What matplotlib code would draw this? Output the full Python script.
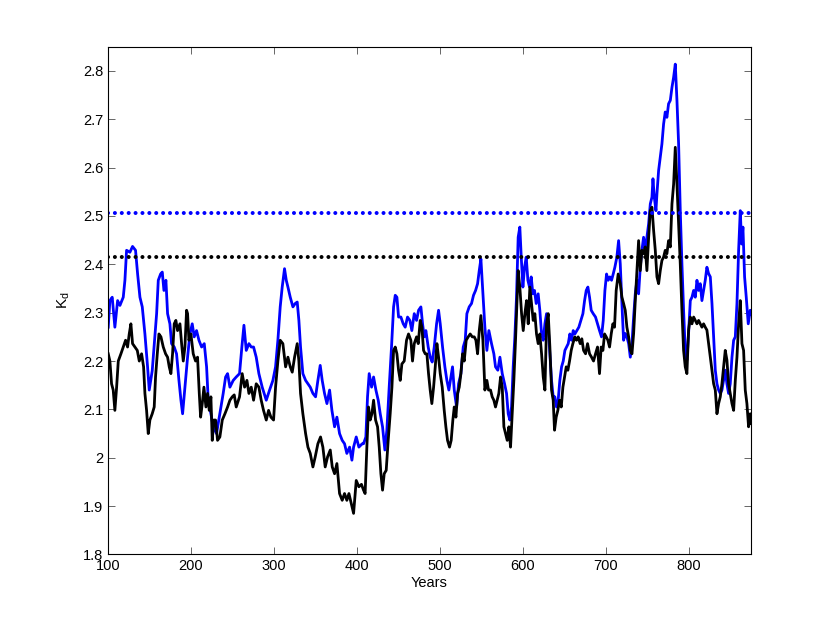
import matplotlib
matplotlib.use("Agg")
import matplotlib.pyplot as plt
from matplotlib.ticker import FormatStrFormatter, FuncFormatter

# blue series
yearsBlue = [100.4, 102.4, 105.2, 108.4, 111.7, 114.5, 118.5, 120.5, 122.5, 126.5, 129.7, 133.3, 135.8,
             138.6, 141.4, 144.6, 147.8, 149.8, 153.4, 156.6, 158.7, 160.7, 163.5, 165.5, 167.5, 169.9,
             171.9, 174.7, 176.7, 179.9, 182.7, 185.6, 188.0, 190.0, 192.8, 196.0, 198.8, 201.6, 204.0,
             206.8, 209.7, 212.9, 216.1, 218.9, 220.9, 224.1, 226.9, 230.9, 234.9, 238.9, 241.8, 244.2,
             247.0, 251.0, 254.6, 258.6, 261.4, 263.9, 266.7, 269.9, 272.7, 275.5, 278.7, 281.9, 285.9,
             290.8, 294.8, 298.8, 302.0, 304.8, 307.6, 310.0, 312.8, 314.9, 316.9, 319.7, 322.9, 325.7,
             328.1, 330.1, 332.1, 334.9, 338.2, 341.0, 343.8, 347.0, 350.2, 353.0, 355.8, 358.2, 361.0,
             363.9, 367.1, 369.9, 373.1, 375.9, 379.1, 382.3, 385.1, 387.9, 391.2, 394.0, 396.0, 399.2,
             402.4, 406.4, 408.0, 410.8, 412.8, 414.8, 417.7, 420.1, 422.9, 425.7, 428.1, 430.9, 433.7,
             436.1, 438.9, 441.7, 444.2, 446.2, 448.2, 450.2, 453.0, 455.8, 458.2, 461.0, 463.8, 466.2,
             469.1, 471.9, 474.3, 477.1, 479.1, 481.1, 483.1, 485.9, 488.3, 490.7, 493.2, 496.0, 498.4,
             500.4, 503.2, 506.0, 508.4, 510.8, 513.2, 515.2, 517.3, 520.1, 522.5, 525.3, 528.1, 530.5,
             532.5, 535.3, 538.1, 540.5, 543.0, 545.4, 547.4, 549.4, 551.4, 554.2, 556.6, 559.0, 562.2,
             565.0, 567.0, 569.8, 572.3, 575.1, 577.9, 580.3, 582.3, 584.3, 586.3, 588.3, 590.3, 592.3,
             594.3, 596.3, 598.0, 600.0, 602.0, 604.0, 606.0, 608.0, 610.0, 612.0, 614.0, 616.0, 618.4,
             620.4, 622.5, 624.5, 626.5, 628.5, 630.5, 632.5, 634.5, 636.5, 638.5, 640.5, 642.5, 644.5,
             646.6, 648.6, 650.6, 652.6, 654.6, 656.6, 658.6, 660.6, 662.6, 665.0, 667.4, 669.8, 672.3,
             674.3, 676.3, 678.3, 680.3, 682.3, 684.7, 687.5, 689.9, 692.3, 694.7, 696.8, 698.8, 700.8,
             702.8, 704.8, 706.8, 708.8, 710.8, 713.2, 715.3, 717.3, 719.3, 721.3, 723.3, 725.3, 727.4,
             729.4, 731.4, 733.4, 735.4, 737.4, 739.4, 741.4, 743.4, 745.4, 747.4, 749.4, 751.5, 753.5,
             755.5, 756.7, 758.3, 760.3, 761.5, 763.5, 765.5, 767.5, 769.5, 771.5, 773.5, 775.5, 777.6,
             779.6, 781.6, 783.6, 785.6, 787.6, 789.6, 791.6, 793.6, 795.6, 797.6, 799.6, 801.7, 803.7,
             805.7, 807.7, 809.7, 811.7, 813.7, 815.7, 817.7, 819.7, 821.7, 823.7, 825.8, 827.8, 829.8,
             831.8, 833.8, 835.8, 837.8, 839.8, 841.8, 843.8, 845.8, 847.8, 849.8, 851.9, 853.9, 855.9,
             857.9, 859.9, 861.9, 863.5, 865.1, 867.1, 869.1, 871.5, 873.9, 875.0]
kdBlue = [2.270, 2.325, 2.332, 2.270, 2.325, 2.315, 2.332, 2.367, 2.429, 2.425, 2.437, 2.429, 2.380,
          2.332, 2.312, 2.256, 2.188, 2.140, 2.180, 2.250, 2.298, 2.367, 2.380, 2.384, 2.346, 2.367,
          2.298, 2.277, 2.236, 2.229, 2.215, 2.160, 2.119, 2.091, 2.146, 2.208, 2.256, 2.277, 2.250,
          2.263, 2.243, 2.229, 2.236, 2.188, 2.119, 2.091, 2.064, 2.050, 2.091, 2.133, 2.167, 2.174,
          2.146, 2.160, 2.167, 2.174, 2.229, 2.274, 2.222, 2.236, 2.229, 2.229, 2.208, 2.174, 2.146,
          2.119, 2.140, 2.160, 2.188, 2.243, 2.312, 2.353, 2.391, 2.367, 2.353, 2.332, 2.312, 2.319,
          2.322, 2.284, 2.229, 2.174, 2.160, 2.153, 2.146, 2.133, 2.126, 2.160, 2.191, 2.160, 2.133,
          2.112, 2.140, 2.098, 2.064, 2.084, 2.050, 2.036, 2.029, 2.009, 2.022, 1.995, 2.022, 2.043,
          2.022, 2.029, 2.029, 2.043, 2.126, 2.174, 2.146, 2.167, 2.140, 2.119, 2.091, 2.064, 2.016,
          2.057, 2.146, 2.229, 2.312, 2.336, 2.332, 2.291, 2.291, 2.277, 2.270, 2.291, 2.284, 2.263,
          2.298, 2.284, 2.305, 2.312, 2.277, 2.250, 2.263, 2.229, 2.208, 2.198, 2.229, 2.277, 2.305,
          2.277, 2.229, 2.188, 2.160, 2.140, 2.167, 2.188, 2.140, 2.105, 2.153, 2.174, 2.229, 2.243,
          2.298, 2.312, 2.319, 2.336, 2.346, 2.360, 2.387, 2.411, 2.353, 2.270, 2.222, 2.263, 2.236,
          2.215, 2.188, 2.181, 2.208, 2.174, 2.153, 2.133, 2.091, 2.078, 2.105, 2.188, 2.250, 2.332,
          2.456, 2.477, 2.415, 2.353, 2.394, 2.415, 2.367, 2.353, 2.374, 2.339, 2.346, 2.319, 2.339,
          2.305, 2.256, 2.243, 2.277, 2.298, 2.270, 2.215, 2.160, 2.126, 2.126, 2.105, 2.119, 2.160,
          2.188, 2.200, 2.222, 2.229, 2.236, 2.256, 2.243, 2.263, 2.256, 2.263, 2.270, 2.284, 2.298,
          2.325, 2.346, 2.353, 2.332, 2.305, 2.298, 2.291, 2.277, 2.263, 2.250, 2.284, 2.346, 2.380,
          2.367, 2.374, 2.367, 2.380, 2.394, 2.415, 2.449, 2.401, 2.319, 2.243, 2.257, 2.250, 2.236,
          2.208, 2.236, 2.291, 2.339, 2.367, 2.339, 2.394, 2.429, 2.456, 2.429, 2.456, 2.484, 2.525,
          2.539, 2.577, 2.539, 2.511, 2.546, 2.594, 2.622, 2.649, 2.690, 2.715, 2.704, 2.732, 2.739,
          2.766, 2.787, 2.814, 2.739, 2.649, 2.511, 2.401, 2.305, 2.222, 2.202, 2.257, 2.325, 2.332,
          2.346, 2.332, 2.367, 2.346, 2.360, 2.325, 2.346, 2.367, 2.394, 2.381, 2.374, 2.319, 2.250,
          2.181, 2.153, 2.140, 2.133, 2.140, 2.160, 2.181, 2.153, 2.133, 2.153, 2.208, 2.243, 2.250,
          2.319, 2.429, 2.511, 2.442, 2.477, 2.374, 2.332, 2.277, 2.305, 2.298]

# black series
yearsBlack = [100.4, 102.4, 104.4, 106.4, 108.4, 110.5, 112.5, 115.7, 118.5, 121.3, 123.7, 125.7, 127.7,
              129.7, 132.5, 135.4, 137.8, 140.6, 143.0, 144.6, 146.6, 148.6, 150.6, 153.4, 155.8, 157.4,
              159.5, 161.5, 163.9, 166.7, 169.5, 171.9, 173.9, 175.9, 177.9, 179.9, 181.9, 183.9, 186.8,
              188.8, 190.8, 192.8, 194.8, 196.0, 197.6, 200.0, 202.8, 205.6, 208.0, 210.1, 211.7, 213.7,
              215.7, 218.1, 220.1, 222.1, 224.1, 225.7, 227.7, 229.7, 232.1, 234.9, 237.8, 241.0, 244.2,
              247.0, 249.8, 252.2, 254.6, 258.6, 261.8, 264.7, 267.5, 269.9, 272.7, 275.5, 278.7, 281.9,
              284.7, 287.5, 290.8, 293.6, 296.4, 299.6, 302.0, 304.8, 307.6, 310.8, 314.1, 316.9, 319.7,
              322.1, 324.9, 328.1, 330.1, 332.1, 334.9, 338.2, 341.0, 343.8, 347.0, 349.8, 353.0, 356.2,
              359.0, 361.8, 364.7, 367.9, 370.3, 373.1, 375.9, 379.1, 382.3, 385.1, 387.9, 390.4, 393.2,
              396.0, 399.2, 402.4, 405.5, 408.0, 409.9, 412.0, 414.0, 416.0, 418.1, 420.1, 422.5, 424.9,
              426.9, 428.9, 430.9, 432.9, 435.3, 437.7, 440.1, 442.2, 444.2, 446.2, 448.2, 450.2, 452.2,
              454.2, 457.0, 459.8, 462.2, 465.0, 467.0, 469.1, 471.9, 473.9, 476.3, 478.3, 480.3, 482.3,
              484.3, 486.3, 488.3, 490.3, 492.4, 494.4, 496.4, 498.4, 500.4, 502.8, 505.2, 507.2, 509.2,
              511.6, 513.6, 515.6, 517.3, 519.3, 521.3, 523.3, 525.3, 527.3, 529.3, 531.7, 534.1, 536.5,
              539.0, 541.4, 543.4, 545.4, 547.4, 549.4, 551.8, 554.2, 556.6, 558.6, 561.0, 563.0, 565.0,
              567.0, 569.0, 571.0, 573.1, 575.1, 577.1, 579.1, 581.1, 583.1, 585.1, 587.1, 589.1, 591.1,
              593.1, 594.3, 596.3, 598.4, 600.4, 602.4, 604.4, 606.4, 608.4, 610.4, 612.4, 614.4, 616.4,
              618.4, 620.4, 622.5, 624.5, 626.5, 628.5, 630.5, 632.5, 634.5, 636.5, 638.1, 640.1, 642.1,
              644.1, 646.2, 648.2, 650.2, 652.2, 654.2, 656.2, 658.2, 660.2, 662.6, 664.6, 666.6, 669.0,
              671.0, 673.1, 675.5, 677.9, 680.3, 682.7, 685.1, 687.5, 689.9, 692.3, 694.3, 696.4, 698.4,
              700.4, 702.4, 704.4, 706.4, 708.4, 710.4, 712.4, 714.8, 717.3, 719.3, 721.3, 723.3, 725.3,
              727.4, 729.4, 731.4, 733.4, 735.4, 737.4, 739.4, 741.4, 743.4, 745.4, 747.4, 749.4, 751.5,
              753.5, 755.5, 757.5, 759.5, 761.5, 763.5, 765.5, 767.5, 769.5, 771.5, 773.5, 775.5, 777.6,
              779.6, 781.6, 783.6, 785.6, 787.6, 789.6, 791.6, 793.6, 795.6, 797.6, 799.6, 801.7, 803.7,
              805.7, 807.7, 809.7, 811.7, 813.7, 815.7, 817.7, 819.7, 821.7, 823.7, 825.8, 827.8, 829.8,
              831.8, 833.8, 835.8, 837.8, 839.8, 841.8, 843.8, 845.8, 847.8, 849.8, 851.9, 853.9, 855.9,
              857.9, 859.9, 861.9, 863.9, 865.9, 867.9, 869.9, 871.9, 873.9, 875.0]
kdBlack = [2.215, 2.200, 2.153, 2.140, 2.098, 2.146, 2.200, 2.215, 2.229, 2.243, 2.229, 2.256, 2.277,
           2.236, 2.229, 2.222, 2.200, 2.215, 2.188, 2.133, 2.098, 2.050, 2.078, 2.091, 2.105, 2.167,
           2.215, 2.256, 2.250, 2.229, 2.215, 2.208, 2.188, 2.174, 2.215, 2.277, 2.284, 2.263, 2.277,
           2.236, 2.200, 2.229, 2.305, 2.298, 2.243, 2.256, 2.215, 2.200, 2.208, 2.133, 2.084, 2.112,
           2.146, 2.105, 2.133, 2.098, 2.126, 2.036, 2.078, 2.078, 2.036, 2.043, 2.078, 2.091, 2.105,
           2.119, 2.126, 2.130, 2.105, 2.126, 2.174, 2.146, 2.160, 2.133, 2.146, 2.119, 2.153, 2.146,
           2.119, 2.098, 2.078, 2.098, 2.084, 2.078, 2.146, 2.200, 2.243, 2.236, 2.188, 2.208, 2.188,
           2.177, 2.208, 2.236, 2.200, 2.133, 2.091, 2.050, 2.022, 2.009, 1.981, 2.002, 2.029, 2.043,
           2.022, 1.981, 2.002, 2.016, 1.981, 1.967, 1.988, 1.926, 1.912, 1.926, 1.912, 1.926, 1.905,
           1.885, 1.953, 1.940, 1.945, 1.933, 1.926, 2.022, 2.105, 2.078, 2.091, 2.119, 2.078, 2.064,
           2.022, 1.967, 1.933, 1.967, 1.974, 2.036, 2.091, 2.146, 2.222, 2.229, 2.215, 2.181, 2.160,
           2.194, 2.200, 2.243, 2.256, 2.243, 2.200, 2.236, 2.250, 2.236, 2.284, 2.270, 2.222, 2.215,
           2.215, 2.174, 2.140, 2.112, 2.146, 2.188, 2.236, 2.208, 2.174, 2.146, 2.098, 2.064, 2.036,
           2.022, 2.036, 2.078, 2.105, 2.084, 2.133, 2.146, 2.174, 2.215, 2.200, 2.243, 2.250, 2.256,
           2.250, 2.250, 2.243, 2.215, 2.263, 2.294, 2.243, 2.140, 2.160, 2.140, 2.140, 2.126, 2.119,
           2.105, 2.119, 2.133, 2.167, 2.146, 2.064, 2.050, 2.036, 2.064, 2.022, 2.091, 2.160, 2.243,
           2.332, 2.387, 2.353, 2.298, 2.263, 2.298, 2.325, 2.277, 2.353, 2.319, 2.284, 2.298, 2.256,
           2.236, 2.256, 2.215, 2.167, 2.140, 2.277, 2.298, 2.229, 2.140, 2.119, 2.057, 2.084, 2.098,
           2.119, 2.105, 2.146, 2.167, 2.188, 2.181, 2.200, 2.222, 2.236, 2.250, 2.243, 2.250, 2.236,
           2.246, 2.222, 2.215, 2.236, 2.215, 2.208, 2.200, 2.215, 2.229, 2.174, 2.229, 2.222, 2.256,
           2.250, 2.243, 2.229, 2.256, 2.277, 2.270, 2.346, 2.380, 2.360, 2.332, 2.319, 2.305, 2.270,
           2.250, 2.222, 2.215, 2.257, 2.325, 2.387, 2.449, 2.387, 2.429, 2.422, 2.436, 2.387, 2.456,
           2.511, 2.518, 2.470, 2.429, 2.374, 2.360, 2.387, 2.408, 2.415, 2.429, 2.422, 2.449, 2.436,
           2.525, 2.566, 2.642, 2.566, 2.484, 2.401, 2.305, 2.222, 2.188, 2.174, 2.264, 2.291, 2.277,
           2.291, 2.284, 2.277, 2.284, 2.277, 2.270, 2.277, 2.270, 2.264, 2.236, 2.208, 2.181, 2.153,
           2.140, 2.091, 2.112, 2.126, 2.153, 2.188, 2.222, 2.202, 2.153, 2.133, 2.112, 2.098, 2.160,
           2.208, 2.277, 2.325, 2.236, 2.222, 2.140, 2.112, 2.064, 2.091, 2.071]

# threshold levels
levelBlue = 2.506
levelBlack = 2.415

xTicks = [100, 200, 300, 400, 500, 600, 700, 800]
yTicks = [1.8, 1.9, 2.0, 2.1, 2.2, 2.3, 2.4, 2.5, 2.6, 2.7, 2.8]

plt.rcParams['font.family'] = ['Liberation Sans', 'DejaVu Sans']

fig = plt.figure(figsize=(8.3, 6.23), dpi=100)
ax = fig.add_axes([0.13, 0.11, 0.775, 0.815])

ax.plot(yearsBlue, kdBlue, color=(0, 0, 1), linewidth=2)
ax.plot(yearsBlack, kdBlack, color='k', linewidth=2)

dotStyle = (0, (0.01, 1.7))
ax.axhline(levelBlue, color=(0, 0, 1), linewidth=2.9, linestyle=dotStyle, dash_capstyle='round')
ax.axhline(levelBlack, color='k', linewidth=2.9, linestyle=dotStyle, dash_capstyle='round')

ax.set_xlim(100, 875)
ax.set_ylim(1.8, 2.85)
ax.set_xticks(xTicks)
ax.set_yticks(yTicks)
ax.yaxis.set_major_formatter(FuncFormatter(lambda v, p: '%g' % round(v, 2)))
ax.tick_params(direction='in', top=True, right=True, length=5, width=0.6, labelsize=10.5, color='0.3')
for s in ax.spines.values():
    s.set_linewidth(0.8)

ax.set_xlabel('Years', fontsize=10.5, labelpad=2)
ax.set_ylabel('K$_\\mathregular{d}$', fontsize=11, labelpad=8)

fig.savefig('out.png', dpi=100)
